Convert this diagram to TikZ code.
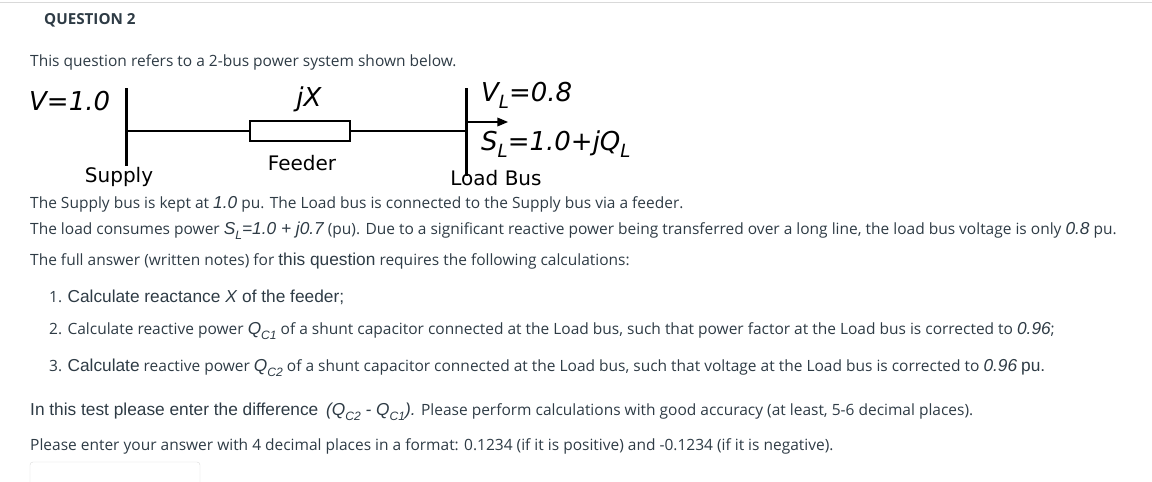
\documentclass[tikz,border=0pt]{standalone}
\usepackage{fontspec}
\setmainfont{Open Sans}
\newfontfamily\arial{Liberation Sans}
\newfontfamily\dejavu{DejaVu Sans}
\usetikzlibrary{arrows}
\definecolor{canvastxt}{rgb}{0.18,0.23,0.27}
\definecolor{rulegray}{rgb}{0.85,0.85,0.85}
\tikzset{txt/.style={anchor=west,inner sep=0pt,text=canvastxt,font=\fontsize{15.5}{17}\selectfont},
  lbl/.style={inner sep=0pt,font=\dejavu\fontsize{20}{22}\selectfont},
  ilbl/.style={lbl,font=\dejavu\itshape\fontsize{26}{28}\selectfont},
  bus/.style={line width=3pt}}
\newcommand{\ar}[1]{{\arial\fontsize{17.3}{17}\selectfont #1}}
\newcommand{\ai}[1]{{\arial\itshape\fontsize{17.3}{17}\selectfont #1}}
\newcommand{\sbs}[1]{\raisebox{-0.28em}{\scalebox{0.7}{#1}}}
\begin{document}
\begin{tikzpicture}[line cap=butt,>=triangle 45,x=1pt,y=-1pt]
\useasboundingbox (0,0) rectangle (1152,482);
\draw[rulegray] (0,2) -- (1152,2);
\node[txt,font=\bfseries\fontsize{15.2}{17}\selectfont] (q) at (44,20) {QUESTION 2};
\node[txt] (intro) at (30,62) {This question refers to a 2-bus power system shown below.};
% one-line diagram
\coordinate (s1) at (126,88); \coordinate (s2) at (126,166);
\coordinate (l1) at (466,88); \coordinate (l2) at (466,176);
\draw[bus] (s1) -- (s2);
\draw[bus] (l1) -- (l2);
\node[draw,line width=1.2pt,minimum width=100pt,minimum height=20pt,inner sep=0pt] (feeder) at (300,131) {};
\draw[line width=1.2pt] (126,131) -- (feeder.west);
\draw[line width=1.2pt] (feeder.east) -- (466,131);
\coordinate (ld) at (466,122); \coordinate (ldend) at (508,122);
\draw[->,line width=1.5pt] (ld) -- (ldend);
\node[ilbl,anchor=west] (v) at (29,101) {V=1.0};
\node[ilbl] (jx) at (309,99) {jX};
\node[ilbl,anchor=west] (vl) at (481,95) {V\sbs{L}=0.8};
\node[ilbl,anchor=west] (sl) at (481,144) {S\sbs{L}=1.0+jQ\sbs{L}};
\node[lbl] (sup) at (119,177) {Supply};
\node[lbl] (fd) at (302,163) {Feeder};
\node[lbl] (lb) at (496,178) {Load Bus};
% question text
\node[txt] (t1) at (30,204) {The Supply bus is kept at \ai{1.0} pu. The Load bus is connected to the Supply bus via a feeder.};
\node[txt] (t2) at (30,231) {The load consumes power \ai{S\sbs{L}=1.0 + j0.7} (pu). Due to a significant reactive power being transferred over a long line, the load bus voltage is only \ai{0.8} pu.};
\node[txt] (t3) at (30,261) {The full answer (written notes) for \ar{this question} requires the following calculations:};
\node[txt] (i1) at (49,297) {1. \ar{Calculate reactance \textit{X} of the feeder;}};
\node[txt] (i2) at (49,331) {2. Calculate reactive power \ai{Q\sbs{C1}} of a shunt capacitor connected at the Load bus, such that power factor at the Load bus is corrected to \ai{0.96};};
\node[txt] (i3) at (49,368) {3. \ar{Calculate} reactive power \ai{Q\sbs{C2}} of a shunt capacitor connected at the Load bus, such that voltage at the Load bus is corrected to \ai{0.96} \ar{pu.}};
\node[txt] (t4) at (30,412) {\ar{In this test please enter the difference}\enspace\ai{(Q\sbs{C2} - Q\sbs{C1}).} Please perform calculations with good accuracy (at least, 5-6 decimal places).};
\node[txt] (t5) at (30,446) {Please enter your answer with 4 decimal places in a format: 0.1234 (if it is positive) and -0.1234 (if it is negative).};
\draw[rulegray,rounded corners=3pt] (30,490) -- (30,462) -- (200,462) -- (200,490);
\end{tikzpicture}
\end{document}
